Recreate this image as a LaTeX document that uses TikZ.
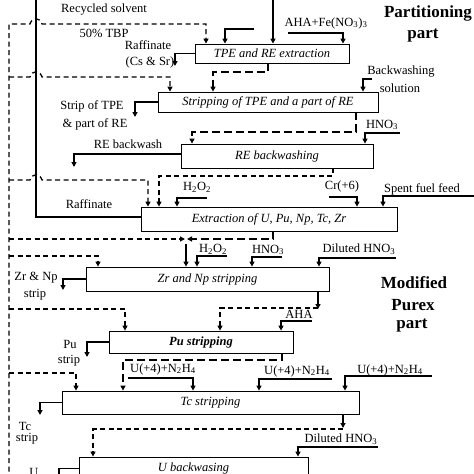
\documentclass[tikz,border=0pt]{standalone}
\usepackage{fontspec}
\setmainfont{Liberation Serif}
\usetikzlibrary{arrows.meta}

\begin{document}
\begin{tikzpicture}[x=1pt, y=-1pt, >={Triangle[length=5pt,width=5pt]},
  every node/.style={font=\fontsize{12.5}{14}\selectfont, inner sep=0pt},
  unit/.style={draw, line width=0.8pt, fill=white, font=\fontsize{12.5}{14}\selectfont\itshape},
  feed/.style={line width=1.3pt, ->},
  recyc/.style={line width=1.3pt, dash pattern=on 5pt off 3.5pt},
  heavy/.style={line width=2.2pt, dash pattern=on 8pt off 4pt},
  part/.style={font=\fontsize{17}{20}\selectfont\bfseries}]
\useasboundingbox (0,0) rectangle (474,474);
\clip (0,0) rectangle (474,474);

% process units
\node[unit, minimum width=154, minimum height=19] (tpe) at (272,53.5) {TPE and RE extraction};
\node[unit, minimum width=220, minimum height=20] (strip) at (268,102) {Stripping of TPE and a part of RE};
\node[unit, minimum width=192, minimum height=24] (rebw) at (277,156) {RE backwashing};
\node[unit, minimum width=256, minimum height=24] (ext) at (269,219) {Extraction of U, Pu, Np, Tc, Zr};
\node[unit, minimum width=243, minimum height=24] (zrnp) at (207.5,279) {Zr and Np stripping};
\node[unit, minimum width=184, minimum height=22, font=\fontsize{12.5}{14}\selectfont\bfseries\itshape] (pu) at (201,342) {Pu stripping};
\node[unit, minimum width=297, minimum height=23] (tc) at (210.5,402.5) {Tc stripping};
\node[unit, minimum width=229, minimum height=23] (ub) at (193.5,468.5) {U backwasing};

% labels
\node (rsv) at (104,10) {Recycled solvent};
\node (tbp) at (104,33) {50\% TBP};
\node (raf1) at (148,45) {Raffinate};
\node (cssr) at (150,62) {(Cs \& Sr)};
\node (aha1) at (326,23) {AHA+Fe(NO\textsubscript{3})\textsubscript{3}};
\node[part] (partA) at (428,13) {Partitioning};
\node[part] (partB) at (423,36) {part};
\node (bws1) at (401,72) {Backwashing};
\node (bws2) at (400,88) {solution};
\node (stp1) at (92,106) {Strip of TPE};
\node (stp2) at (95,124) {\& part of RE};
\node (hno1) at (382,125) {HNO\textsubscript{3}};
\node (rebl) at (128,144) {RE backwash};
\node (hoo1) at (197,187) {H\textsubscript{2}O\textsubscript{2}};
\node (cr) at (342,186) {Cr(+6)};
\node (sff) at (422,189) {Spent fuel feed};
\node (raf2) at (89,204) {Raffinate};
\node (hoo2) at (213,249) {H\textsubscript{2}O\textsubscript{2}};
\node (hno2) at (268,250) {HNO\textsubscript{3}};
\node (dil1) at (359,249) {Diluted HNO\textsubscript{3}};
\node (zrl1) at (36,278) {Zr \& Np};
\node (zrl2) at (35,295) {strip};
\node[part] (modA) at (414,283) {Modified};
\node[part] (modB) at (413,305) {Purex};
\node[part] (modC) at (412,326) {part};
\node (aha2) at (299,314) {AHA};
\node (pul1) at (70,344) {Pu};
\node (pul2) at (69,361) {strip};
\node (u4a) at (163,369) {U(+4)+N\textsubscript{2}H\textsubscript{4}};
\node (u4b) at (297,371) {U(+4)+N\textsubscript{2}H\textsubscript{4}};
\node (u4c) at (390,370) {U(+4)+N\textsubscript{2}H\textsubscript{4}};
\node (tcl1) at (25,426) {Tc};
\node (tcl2) at (27,439) {strip};
\node (dil2) at (341,439) {Diluted HNO\textsubscript{3}};
\node (ul) at (34,472) {U};

% free ends
\coordinate (solvtop) at (36,-4);
\coordinate (solvlow) at (9,480);
\coordinate (feedtop) at (273,-4);
\coordinate (feeda) at (254,29);
\coordinate (ahain) at (288,33);
\coordinate (bwsin) at (372,79);
\coordinate (hnoin) at (400,133);
\coordinate (hooin) at (207,198);
\coordinate (crin) at (329,197);
\coordinate (sffin) at (476,196);
\coordinate (hootwoin) at (227,256);
\coordinate (hnotwoin) at (282,257);
\coordinate (dilin) at (396,258);
\coordinate (ahatwoin) at (312,321);
\coordinate (uain) at (128,378);
\coordinate (ubin) at (332,379);
\coordinate (ucin) at (432,376);
\coordinate (diltwoin) at (378,447);
\coordinate (rafout) at (175,66);
\coordinate (stpout) at (135,117);
\coordinate (rebout) at (74,167);
\coordinate (zrout) at (63,290);
\coordinate (puout) at (87,357);
\coordinate (tcout) at (40,415);
\coordinate (uout) at (59,480);

% feeds
\draw[feed] (feedtop) -- (tpe.north -| feedtop);
\draw[feed] (feeda) -| (tpe.north -| 225,0);
\draw[feed] (ahain) -| (tpe.north -| 343,0);
\draw[feed] (bwsin) -| (strip.north -| 363,0);
\draw[feed] (hnoin) -| (rebw.north -| 365,0);
\draw[feed] (hooin) -| (ext.north -| 177,0);
\draw[feed] (crin) -| (ext.north -| 357,0);
\draw[feed] (sffin) -| (ext.north -| 383,0);
\draw[feed] (hootwoin) -| (zrnp.north -| 197,0);
\draw[feed] (hnotwoin) -| (zrnp.north -| 252,0);
\draw[feed] (dilin) -| (zrnp.north -| 319,0);
\draw[feed] (ahatwoin) -| (pu.north -| 281,0);
\draw[feed] (uain) -| (tc.north -| 193,0);
\draw[feed] (ubin) -| (tc.north -| 259,0);
\draw[feed] (ucin) -| (tc.north -| 345,0);
\draw[feed] (diltwoin) -| (ub.north -| 298,0);

% products
\draw[feed] (tpe.west) -| (rafout);
\draw[feed] (strip.west) -| (stpout);
\draw[feed] ([yshift=2pt]rebw.west) -| (rebout);
\draw[feed] (zrnp.west) -| (zrout);
\draw[feed] (pu.west) -| (puout);
\draw[feed] (tc.west) -| (tcout);
\draw[feed] (ub.west) -| (uout);
\draw[line width=1.3pt] ([yshift=2pt]ext.west) -| (solvtop);

% solvent between units
\draw[heavy, ->] (tpe.south -| 268,0) -- (268,72) -| (strip.north -| 213,0);
\draw[heavy, ->] (strip.south -| 356,0) -- (356,132) -| (rebw.north -| 192,0);
\draw[recyc, ->] (rebw.south -| 333,0) -- (333,176) -| (ext.north -| 159,0);
\draw[heavy, ->] (ext.south -| 273,0) -- (273,239) -- (187,239);
\draw[feed] (186,244) -- (zrnp.north -| 186,0);
\draw[feed] (zrnp.south -| 318,0) -- (318,309);
\draw[recyc, ->] (318,308) -| (pu.north -| 220,0);
\draw[heavy, ->] (pu.south -| 282,0) -- (282,360) -| (tc.north -| 123,0);
\draw[feed] (tc.south -| 343,0) -- (343,428);
\draw[recyc, ->] (343,429) -| (ub.north -| 93,0);

% recycled solvent
\draw[recyc, ->] (solvlow) -- (9,24) -- (30,24) .. controls (32,17) and (40,17) .. (42,24) -| (tpe.north -| 206,0);
\draw[recyc, ->] (9,77) -- (30,77) .. controls (32,70) and (40,70) .. (42,77) -| (strip.north -| 170,0);
\draw[recyc, ->] (9,180) -- (30,180) .. controls (32,173) and (40,173) .. (42,180) -| (ext.north -| 148,0);
\draw[recyc, ->] (9,239) -- (185,239);
\draw[recyc, ->] (9,256) -| (zrnp.north -| 98,0);
\draw[recyc, ->] (9,309) -| (pu.north -| 125,0);
\draw[recyc, ->] (9,373) -| (tc.north -| 76,0);
\end{tikzpicture}
\end{document}
